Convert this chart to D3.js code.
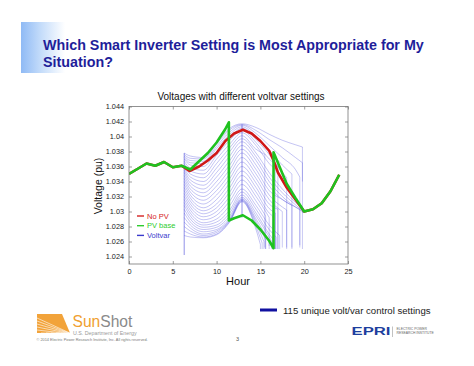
<!DOCTYPE html>
<html><head><meta charset="utf-8">
<script src="https://cdn.jsdelivr.net/npm/d3@7"></script>
<style>body{margin:0;background:#fff}svg{display:block;font-family:Arial,"Liberation Sans",sans-serif}</style>
</head><body><svg id="c" width="474" height="366"></svg>
<script>
// ---------- data ----------
const xTicks = [0, 5, 10, 15, 20, 25];
const yTicks = [1.024, 1.026, 1.028, 1.03, 1.032, 1.034, 1.036, 1.038, 1.04, 1.042, 1.044];
const yTickLabels = ["1.024","1.026","1.028","1.03","1.032","1.034","1.036","1.038","1.04","1.042","1.044"];

const greenHours = [0,1,2,3,4,5,6,7,8,9,10,11,11.4, 11.4,12,13,14,15,16,16.5, 16.5,17,18,19,20,21,22,23,24];
const greenVals  = [1.0350,1.0357,1.0364,1.0361,1.0366,1.0359,1.0361,1.0356,1.0367,1.0378,1.0392,1.0410,1.0419,
                    1.0288,1.0291,1.0295,1.0288,1.0276,1.0261,1.0251,
                    1.0379,1.0365,1.0337,1.0318,1.0300,1.0303,1.0311,1.0327,1.0349];

const redHours = [0,1,2,3,4,5,6,6.9,8,9,10,11,12,13,14,15,16,16.5,17,18,19,20,21,22,23,24];
const redVals  = [1.0350,1.0357,1.0364,1.0361,1.0366,1.0359,1.0361,1.0354,1.0360,1.0368,1.0378,1.0394,1.0404,1.0409,
                  1.0404,1.0394,1.0381,1.0368,1.0352,1.0332,1.0316,1.0300,1.0303,1.0311,1.0327,1.0349];

// voltvar curves: values at blueHours (used while hour < end), then end = [hour, value, dropTo]
const blueHours = [6.3, 7, 8.5, 10, 11.5, 12.9, 14.5, 16, 17.5, 19];
const blueCurves = [
  {v:[1.0378,1.0374,1.0372,1.0392,1.0411,1.0417,1.0412,1.0403,1.0395,1.0389], end:[19.8,1.0386,1.0340]},
  {v:[1.0376,1.0371,1.0370,1.0390,1.0409,1.0416,1.0408,1.0396,1.0385,1.0372], end:[19.8,1.0365,1.0250]},
  {v:[1.0374,1.0368,1.0367,1.0387,1.0406,1.0415,1.0404,1.0388,1.0372,1.0356], end:[19.5,1.0346,1.0252]},
  {v:[1.0372,1.0365,1.0364,1.0384,1.0403,1.0413,1.0400,1.0382,1.0362], end:[18.6,1.0350,1.0250]},
  {v:[1.0370,1.0362,1.0360,1.0380,1.0399,1.0411,1.0396,1.0376,1.0352], end:[18.0,1.0345,1.0252]},
  {v:[1.0367,1.0358,1.0355,1.0375,1.0395,1.0408,1.0392,1.0370], end:[17.0,1.0360,1.0250]},
  {v:[1.0364,1.0354,1.0350,1.0370,1.0390,1.0405,1.0388,1.0364], end:[16.7,1.0356,1.0250]},
  {v:[1.0361,1.0350,1.0345,1.0364,1.0385,1.0401,1.0383], end:[15.5,1.0376,1.0252]},
  {v:[1.0358,1.0346,1.0340,1.0358,1.0380,1.0397,1.0378,1.0352,1.0330,1.0312], end:[19.8,1.0303,1.0300]},
  {v:[1.0355,1.0342,1.0335,1.0352,1.0374,1.0393,1.0373,1.0346,1.0325,1.0309], end:[19.8,1.0301,1.0300]},
  {v:[1.0352,1.0338,1.0330,1.0346,1.0368,1.0388,1.0368,1.0340,1.0320,1.0306], end:[19.8,1.0300,1.0298]},
  {v:[1.0348,1.0334,1.0325,1.0340,1.0362,1.0383,1.0362,1.0334,1.0316,1.0306], end:[19.5,1.0303,1.0255]},
  {v:[1.0344,1.0330,1.0320,1.0334,1.0356,1.0378,1.0356,1.0328,1.0316], end:[18.6,1.0308,1.0252]},
  {v:[1.0340,1.0326,1.0315,1.0328,1.0350,1.0372,1.0350,1.0322,1.0306], end:[18.0,1.0302,1.0250]},
  {v:[1.0336,1.0322,1.0310,1.0322,1.0344,1.0366,1.0344,1.0316], end:[17.5,1.0300,1.0252]},
  {v:[1.0332,1.0318,1.0305,1.0316,1.0338,1.0360,1.0338,1.0310], end:[17.0,1.0303,1.0250]},
  {v:[1.0328,1.0314,1.0301,1.0310,1.0332,1.0354,1.0332,1.0304], end:[16.7,1.0298,1.0250]},
  {v:[1.0324,1.0310,1.0297,1.0305,1.0326,1.0348,1.0326,1.0298], end:[16.4,1.0294,1.0252]},
  {v:[1.0320,1.0306,1.0293,1.0300,1.0320,1.0342,1.0320], end:[16.0,1.0292,1.0254]},
  {v:[1.0316,1.0302,1.0289,1.0295,1.0314,1.0336,1.0314], end:[15.6,1.0294,1.0250]},
  {v:[1.0312,1.0298,1.0285,1.0290,1.0308,1.0330,1.0308,1.0282], end:[17.2,1.0268,1.0250]},
  {v:[1.0308,1.0294,1.0282,1.0286,1.0302,1.0326,1.0303,1.0276], end:[16.8,1.0266,1.0250]},
  {v:[1.0303,1.0290,1.0279,1.0282,1.0298,1.0322,1.0298,1.0270], end:[16.5,1.0262,1.0250]},
  {v:[1.0298,1.0286,1.0276,1.0279,1.0294,1.0319,1.0294,1.0266], end:[16.3,1.0260,1.0250]},
  {v:[1.0292,1.0282,1.0273,1.0276,1.0291,1.0317,1.0290], end:[16.0,1.0260,1.0250]},
  {v:[1.0286,1.0278,1.0270,1.0274,1.0289,1.0316,1.0287], end:[15.6,1.0262,1.0250]},
  {v:[1.0280,1.0274,1.0268,1.0272,1.0288,1.0315,1.0284], end:[15.4,1.0260,1.0250]},
  {v:[1.0274,1.0270,1.0266,1.0270,1.0287,1.0314,1.0280], end:[15.2,1.0258,1.0250]},
  {v:[1.0268,1.0266,1.0265,1.0269,1.0286,1.0313,1.0276], end:[15.0,1.0256,1.0250]}
];
// extra vertical voltvar segments: [hour, low, high]
const blueVerticals = [[6.3,1.0242,1.0378],[12.9,1.0292,1.0416],[11.4,1.0290,1.0412]];

const legendNames  = ["No PV", "PV base", "Voltvar"];
const legendColors = ["#d42222", "#2ecc2e", "#3a3acc"];

// ---------- drawing ----------
const svg = d3.select("#c");

// slide header
const defs = svg.append("defs");
const lg = defs.append("linearGradient").attr("id","hdr").attr("x1","0").attr("x2","1");
lg.append("stop").attr("offset","0").attr("stop-color","#8fbaf5");
lg.append("stop").attr("offset","0.45").attr("stop-color","#c4dcfa");
lg.append("stop").attr("offset","1").attr("stop-color","#ffffff");
svg.append("rect").attr("x",21).attr("y",22).attr("width",44).attr("height",51).attr("fill","url(#hdr)");
svg.append("text").attr("x",43).attr("y",50).attr("font-size",14.3).attr("font-weight","bold").attr("fill","#1e1e9a")
  .text("Which Smart Inverter Setting is Most Appropriate for My");
svg.append("text").attr("x",43).attr("y",67).attr("font-size",14.3).attr("font-weight","bold").attr("fill","#1e1e9a")
  .text("Situation?");

// plot
const L = 129, R = 348, T = 106.5, B = 264;
const x = d3.scaleLinear().domain([0,25]).range([L,R]);
const y = d3.scaleLinear().domain([1.023,1.044]).range([B,T]);

svg.append("text").attr("x",241).attr("y",100).attr("text-anchor","middle").attr("font-size",10).attr("fill","#111")
  .text("Voltages with different voltvar settings");

const g = svg.append("g");
svg.append("defs").append("clipPath").attr("id","clp").append("rect").attr("x",L).attr("y",T).attr("width",R-L).attr("height",B-T);
const plot = g.append("g").attr("clip-path","url(#clp)");

const smooth = d3.line().x(d=>x(d[0])).y(d=>y(d[1])).curve(d3.curveMonotoneX);
const lin = d3.line().x(d=>x(d[0])).y(d=>y(d[1]));

blueCurves.forEach(c => {
  const pts = [];
  blueHours.forEach((h,i) => { if (h < c.end[0] && c.v[i] != null) pts.push([h, c.v[i]]); });
  pts.push([c.end[0], c.end[1]]);
  plot.append("path").attr("d", smooth(pts)).attr("fill","none")
    .attr("stroke","#3a3ad6").attr("stroke-opacity",0.5).attr("stroke-width",0.6);
  plot.append("path").attr("d", lin([[c.end[0],c.end[1]],[c.end[0],c.end[2]]])).attr("fill","none")
    .attr("stroke","#3a3ad6").attr("stroke-opacity",0.45).attr("stroke-width",0.6);
});
blueVerticals.forEach(v => {
  plot.append("path").attr("d", lin([[v[0],v[1]],[v[0],v[2]]])).attr("fill","none")
    .attr("stroke","#3a3ad6").attr("stroke-opacity",0.7).attr("stroke-width",0.8);
});

plot.append("path").attr("d", lin(redHours.map((h,i)=>[h,redVals[i]]))).attr("fill","none")
  .attr("stroke","#d01818").attr("stroke-width",2.6).attr("stroke-linejoin","round");
plot.append("path").attr("d", lin(greenHours.map((h,i)=>[h,greenVals[i]]))).attr("fill","none")
  .attr("stroke","#1fc21f").attr("stroke-width",2.6).attr("stroke-linejoin","round");

// frame + axes
g.append("rect").attr("x",L).attr("y",T).attr("width",R-L).attr("height",B-T).attr("fill","none").attr("stroke","#777").attr("stroke-width",0.8);
g.append("g").attr("transform",`translate(0,${B})`)
  .call(d3.axisBottom(x).tickValues(xTicks).tickSize(-3).tickPadding(5).tickFormat(d3.format("d")));
g.append("g").attr("transform",`translate(${L},0)`)
  .call(d3.axisLeft(y).tickValues(yTicks).tickSize(-3).tickPadding(5).tickFormat((d,i)=>yTickLabels[i]));
g.append("g").attr("transform",`translate(0,${T})`).call(d3.axisTop(x).tickValues(xTicks).tickSize(-3).tickFormat(""));
g.append("g").attr("transform",`translate(${R},0)`).call(d3.axisRight(y).tickValues(yTicks).tickSize(-3).tickFormat(""));
g.selectAll(".domain").remove();
g.selectAll(".tick line").attr("stroke","#777").attr("stroke-width",0.7);
g.selectAll(".tick text").attr("font-size",7.3).attr("fill","#222").attr("font-family","Arial, 'Liberation Sans', sans-serif");

svg.append("text").attr("transform","translate(102,186) rotate(-90)").attr("text-anchor","middle").attr("font-size",10.5).attr("fill","#111")
  .text("Voltage (pu)");
svg.append("text").attr("x",238).attr("y",285).attr("text-anchor","middle").attr("font-size",11).attr("fill","#111").text("Hour");

// legend
legendNames.forEach((n,i) => {
  const yy = 216 + i*9.7;
  svg.append("line").attr("x1",137).attr("x2",144).attr("y1",yy).attr("y2",yy).attr("stroke",legendColors[i]).attr("stroke-width",1.4);
  svg.append("text").attr("x",147).attr("y",yy+2.6).attr("font-size",7.5).attr("fill",legendColors[i]).text(n);
});

// bottom legend
svg.append("line").attr("x1",260).attr("x2",277).attr("y1",310).attr("y2",310).attr("stroke","#1010a0").attr("stroke-width",3);
svg.append("text").attr("x",283).attr("y",313.5).attr("font-size",9.6).attr("fill","#222").text("115 unique volt/var control settings");

// SunShot logo
const sg = svg.append("g");
sg.append("polygon").attr("points","37,314 62,314 70,333 37,333").attr("fill","#f2a33a");
[[37,318],[37,321],[37,324],[37,327],[37,330],[41,333],[46,333],[51,333],[56,333],[61,333]].forEach(p=>{
  sg.append("line").attr("x1",72).attr("y1",334).attr("x2",p[0]).attr("y2",p[1]).attr("stroke","#fff").attr("stroke-width",0.6);
});
const st = svg.append("text").attr("x",72.5).attr("y",326.5).attr("font-size",15.6);
st.append("tspan").attr("fill","#f0a030").text("Sun");
st.append("tspan").attr("fill","#8a8a8a").text("Shot");
svg.append("text").attr("x",73).attr("y",335).attr("font-size",5.3).attr("fill","#999").text("U.S. Department of Energy");
svg.append("text").attr("x",36.5).attr("y",341).attr("font-size",3.85).attr("fill","#777")
  .text("© 2014 Electric Power Research Institute, Inc. All rights reserved.");
svg.append("text").attr("x",236).attr("y",341).attr("font-size",5.5).attr("fill","#555").text("3");

// EPRI logo
svg.append("text").attr("x",351.5).attr("y",334.5).attr("font-size",10.5).attr("font-weight","bold").attr("fill","#1d3f9e")
  .attr("textLength",39).attr("lengthAdjust","spacingAndGlyphs").text("EPRI");
svg.append("line").attr("x1",392.5).attr("x2",392.5).attr("y1",326.5).attr("y2",337).attr("stroke","#999").attr("stroke-width",0.6);
svg.append("text").attr("x",396.5).attr("y",329.5).attr("font-size",3.4).attr("fill","#666").text("ELECTRIC POWER");
svg.append("text").attr("x",396.5).attr("y",333.8).attr("font-size",3.4).attr("fill","#666").text("RESEARCH INSTITUTE");
</script></body></html>
